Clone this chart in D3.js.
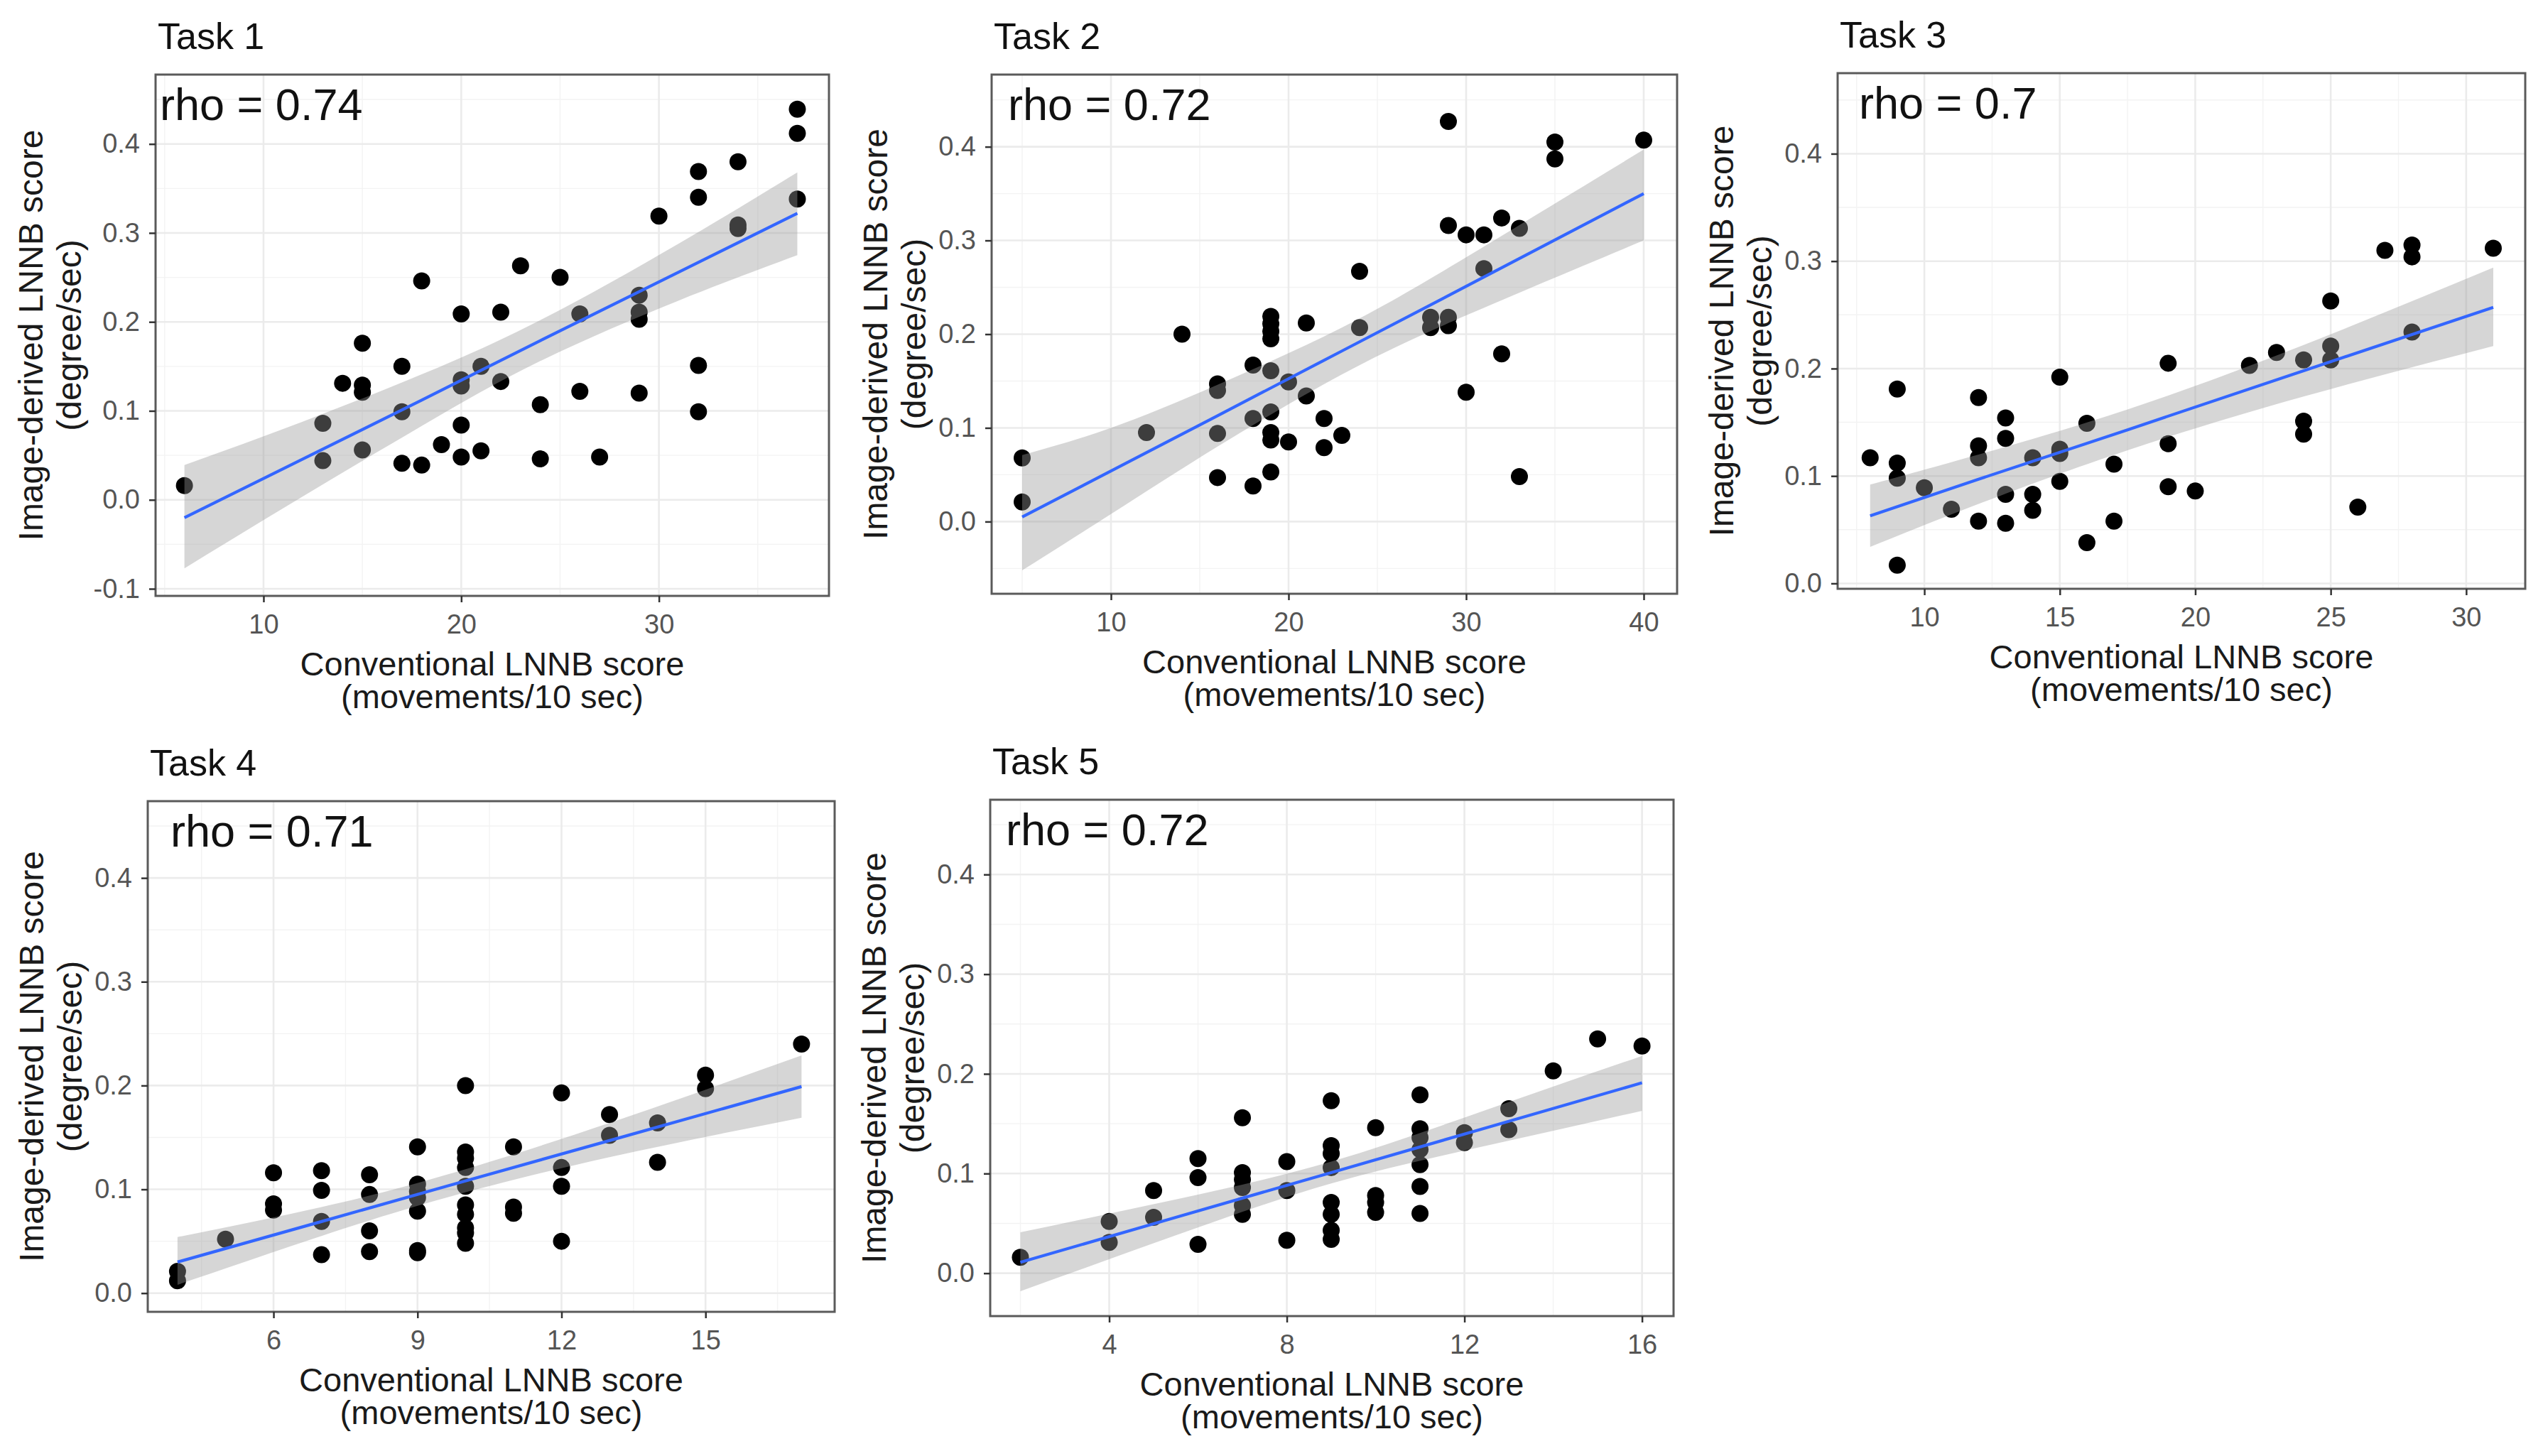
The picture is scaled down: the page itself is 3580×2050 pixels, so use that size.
<!DOCTYPE html>
<html>
<head>
<meta charset="utf-8">
<title>Image-derived vs conventional LNNB score</title>
<script src="https://cdn.jsdelivr.net/npm/d3@7"></script>
<style>
  body { margin: 0; background: #ffffff; }
  text { font-family: "Liberation Sans", Arial, sans-serif; }
  .grid-major { stroke: #EBEBEB; stroke-width: 2.6px; }
  .grid-minor { stroke: #F3F3F3; stroke-width: 1.4px; }
  .axis .tick text { fill: #555555; font-size: 38px; }
  .axis .tick line { stroke: #333333; stroke-width: 2.5px; }
  .axis .domain { display: none; }
</style>
</head>
<body>
<svg id="chart" width="3580" height="2050"></svg>
<script>
// ---- values ----
var taskTitles = ["Task 1", "Task 2", "Task 3", "Task 4", "Task 5"];
var rhoLabels = ["rho = 0.74", "rho = 0.72", "rho = 0.7", "rho = 0.71", "rho = 0.72"];
var xTitle = ["Conventional LNNB score", "(movements/10 sec)"];
var yTitle = ["Image-derived LNNB score", "(degree/sec)"];

var task1X = [6,13,13,14,15,15,15,15,17,17,17,18,18,19,20,20,20,20,20,21,21,22,22,23,24,24,25,26,26,27,29,29,29,29,30,32,32,32,32,34,34,34,37,37,37];
var task1Y = [0.016,0.086,0.044,0.131,0.176,0.129,0.121,0.056,0.150,0.099,0.041,0.246,0.039,0.062,0.209,0.135,0.128,0.084,0.048,0.055,0.150,0.211,0.133,0.263,0.107,0.046,0.250,0.209,0.122,0.048,0.230,0.211,0.203,0.120,0.319,0.369,0.340,0.151,0.099,0.380,0.309,0.305,0.439,0.412,0.338];

var task2X = [5,5,12,14,16,16,16,16,18,18,18,19,19,19,19,19,19,19,19,19,20,20,21,21,22,22,23,24,24,28,28,29,29,29,29,30,30,31,31,32,32,33,33,35,35,40];
var task2Y = [0.068,0.021,0.095,0.200,0.147,0.140,0.094,0.047,0.167,0.110,0.038,0.219,0.211,0.203,0.195,0.161,0.117,0.095,0.087,0.053,0.149,0.085,0.212,0.134,0.110,0.079,0.092,0.267,0.207,0.218,0.207,0.427,0.316,0.218,0.209,0.306,0.138,0.306,0.270,0.324,0.179,0.313,0.048,0.405,0.387,0.407];

var task3X = [8,9,9,9,9,10,11,12,12,12,12,13,13,13,13,14,14,14,15,15,15,15,16,16,17,17,19,19,19,20,22,23,24,24,24,25,25,25,26,27,28,28,28,31];
var task3Y = [0.117,0.181,0.112,0.098,0.017,0.089,0.069,0.173,0.128,0.117,0.058,0.154,0.135,0.083,0.056,0.117,0.083,0.068,0.192,0.125,0.121,0.095,0.149,0.038,0.111,0.058,0.205,0.130,0.090,0.086,0.203,0.215,0.208,0.151,0.139,0.221,0.208,0.263,0.071,0.310,0.315,0.304,0.234,0.312];

var task4X = [4,4,5,6,6,6,7,7,7,7,8,8,8,8,9,9,9,9,9,9,9,10,10,10,10,10,10,10,10,10,10,11,11,11,12,12,12,12,13,13,14,14,15,15,17];
var task4Y = [0.021,0.012,0.052,0.116,0.086,0.080,0.118,0.099,0.069,0.037,0.114,0.095,0.060,0.040,0.141,0.105,0.098,0.092,0.079,0.041,0.039,0.200,0.136,0.130,0.121,0.103,0.085,0.076,0.063,0.058,0.048,0.141,0.083,0.077,0.193,0.121,0.103,0.050,0.172,0.152,0.164,0.126,0.210,0.197,0.240];

var task5X = [2,4,4,5,5,6,6,6,7,7,7,7,7,7,8,8,8,9,9,9,9,9,9,9,9,10,10,10,10,11,11,11,11,11,11,11,12,12,13,13,14,15,16];
var task5Y = [0.016,0.052,0.031,0.083,0.056,0.115,0.096,0.029,0.156,0.101,0.094,0.086,0.068,0.059,0.112,0.083,0.033,0.173,0.128,0.120,0.106,0.071,0.059,0.043,0.034,0.146,0.078,0.071,0.061,0.179,0.145,0.136,0.124,0.109,0.087,0.060,0.141,0.131,0.165,0.144,0.203,0.235,0.228];

// fitted line and its grey confidence band, read at a few x positions
var fit1X  = [6, 12, 18, 24, 31, 37];
var fit1Y  = [-0.020, 0.046, 0.112, 0.179, 0.256, 0.322];
var fit1Lo = [-0.077, 0.004, 0.083, 0.156, 0.224, 0.275];
var fit1Hi = [0.039, 0.088, 0.141, 0.202, 0.288, 0.368];

var fit2X  = [5, 10, 16, 23, 30, 40];
var fit2Y  = [0.005, 0.054, 0.113, 0.182, 0.251, 0.350];
var fit2Lo = [-0.052, 0.008, 0.080, 0.157, 0.220, 0.300];
var fit2Hi = [0.071, 0.100, 0.146, 0.207, 0.282, 0.397];

var fit3X  = [8, 12, 17.5, 24, 31];
var fit3Y  = [0.063, 0.097, 0.143, 0.198, 0.257];
var fit3Lo = [0.034, 0.074, 0.124, 0.174, 0.221];
var fit3Hi = [0.092, 0.120, 0.162, 0.222, 0.294];

var fit4X  = [4, 7, 9.6, 13, 17];
var fit4Y  = [0.030, 0.069, 0.103, 0.147, 0.199];
var fit4Lo = [0.008, 0.055, 0.092, 0.131, 0.169];
var fit4Hi = [0.054, 0.083, 0.114, 0.164, 0.229];

var fit5X  = [2, 5.5, 9, 12.5, 16];
var fit5Y  = [0.011, 0.056, 0.101, 0.146, 0.191];
var fit5Lo = [-0.018, 0.038, 0.090, 0.128, 0.163];
var fit5Hi = [0.041, 0.074, 0.112, 0.164, 0.218];

var xTicks1 = [10, 20, 30];
var xTicks2 = [10, 20, 30, 40];
var xTicks3 = [10, 15, 20, 25, 30];
var xTicks4 = [6, 9, 12, 15];
var xTicks5 = [4, 8, 12, 16];
var yTicks1 = [-0.1, 0, 0.1, 0.2, 0.3, 0.4];
var yTicks  = [0, 0.1, 0.2, 0.3, 0.4];

// ---- panel placement (pixels) and axis ranges ----
var layout = [
  {left: 219,  top: 105,  right: 1167, bottom: 839,  xd: [4.54, 38.6],  yd: [-0.108, 0.478], rhoDx: 6},
  {left: 1396, top: 105,  right: 2361, bottom: 836,  xd: [3.28, 41.88], yd: [-0.077, 0.477], rhoDx: 23},
  {left: 2587, top: 103,  right: 3555, bottom: 829,  xd: [6.80, 32.18], yd: [-0.005, 0.475], rhoDx: 30},
  {left: 208,  top: 1128, right: 1175, bottom: 1847, xd: [3.38, 17.69], yd: [-0.018, 0.474], rhoDx: 32},
  {left: 1394, top: 1126, right: 2356, bottom: 1853, xd: [1.32, 16.71], yd: [-0.043, 0.475], rhoDx: 22}
];

var panels = [
  {x: task1X, y: task1Y, fx: fit1X, fy: fit1Y, lo: fit1Lo, hi: fit1Hi, xt: xTicks1, yt: yTicks1},
  {x: task2X, y: task2Y, fx: fit2X, fy: fit2Y, lo: fit2Lo, hi: fit2Hi, xt: xTicks2, yt: yTicks},
  {x: task3X, y: task3Y, fx: fit3X, fy: fit3Y, lo: fit3Lo, hi: fit3Hi, xt: xTicks3, yt: yTicks},
  {x: task4X, y: task4Y, fx: fit4X, fy: fit4Y, lo: fit4Lo, hi: fit4Hi, xt: xTicks4, yt: yTicks},
  {x: task5X, y: task5Y, fx: fit5X, fy: fit5Y, lo: fit5Lo, hi: fit5Hi, xt: xTicks5, yt: yTicks}
];

var svg = d3.select("#chart");
svg.append("rect").attr("width", 3580).attr("height", 2050).attr("fill", "#ffffff");

// midpoints between major ticks, plus half a step past each end
function minorTicks(major, domain) {
  var step = major[1] - major[0], out = [];
  for (var v = major[0] - step / 2; v <= domain[1]; v += step) {
    if (v >= domain[0]) out.push(+v.toFixed(4));
  }
  return out;
}

panels.forEach(function(p, i) {
  var L = layout[i];
  var w = L.right - L.left, h = L.bottom - L.top;
  var x = d3.scaleLinear().domain(L.xd).range([0, w]);
  var y = d3.scaleLinear().domain(L.yd).range([h, 0]);

  var g = svg.append("g").attr("transform", "translate(" + L.left + "," + L.top + ")");

  g.append("clipPath").attr("id", "clip" + i)
    .append("rect").attr("width", w).attr("height", h);

  g.append("rect").attr("width", w).attr("height", h).attr("fill", "#ffffff");

  // grid
  var grid = g.append("g");
  grid.selectAll(".vmin").data(minorTicks(p.xt, L.xd)).enter().append("line")
    .attr("class", "grid-minor").attr("x1", x).attr("x2", x).attr("y1", 0).attr("y2", h);
  grid.selectAll(".hmin").data(minorTicks(p.yt, L.yd)).enter().append("line")
    .attr("class", "grid-minor").attr("y1", y).attr("y2", y).attr("x1", 0).attr("x2", w);
  grid.selectAll(".vmaj").data(p.xt).enter().append("line")
    .attr("class", "grid-major").attr("x1", x).attr("x2", x).attr("y1", 0).attr("y2", h);
  grid.selectAll(".hmaj").data(p.yt).enter().append("line")
    .attr("class", "grid-major").attr("y1", y).attr("y2", y).attr("x1", 0).attr("x2", w);

  // points
  var pts = p.x.map(function(v, k) { return {x: v, y: p.y[k]}; });
  g.append("g").selectAll("circle").data(pts).enter().append("circle")
    .attr("cx", function(d) { return x(d.x); })
    .attr("cy", function(d) { return y(d.y); })
    .attr("r", 12)
    .attr("fill", "#000000");

  // confidence band over the points, then the fitted line
  var band = p.fx.map(function(v, k) { return {x: v, lo: p.lo[k], hi: p.hi[k], fit: p.fy[k]}; });
  g.append("path").datum(band)
    .attr("clip-path", "url(#clip" + i + ")")
    .attr("fill", "#999999").attr("fill-opacity", 0.4)
    .attr("d", d3.area().curve(d3.curveNatural)
      .x(function(d) { return x(d.x); })
      .y0(function(d) { return y(d.lo); })
      .y1(function(d) { return y(d.hi); }));
  g.append("path").datum(band)
    .attr("fill", "none").attr("stroke", "#3366FF").attr("stroke-width", 4.2)
    .attr("d", d3.line()
      .x(function(d) { return x(d.x); })
      .y(function(d) { return y(d.fit); }));

  // border
  g.append("rect").attr("width", w).attr("height", h)
    .attr("fill", "none").attr("stroke", "#5a5a5a").attr("stroke-width", 3);

  // axes
  g.append("g").attr("class", "axis").attr("transform", "translate(0," + h + ")")
    .call(d3.axisBottom(x).tickValues(p.xt).tickSize(9).tickPadding(17).tickFormat(d3.format("d")));
  var yAxis = g.append("g").attr("class", "axis")
    .call(d3.axisLeft(y).tickValues(p.yt).tickSize(9).tickPadding(13)
      .tickFormat(function(d) { return d.toFixed(1); }));

  // x title
  g.append("text").attr("x", w / 2).attr("y", h + 112)
    .attr("text-anchor", "middle").attr("font-size", 47).attr("fill", "#1a1a1a")
    .text(xTitle[0]);
  g.append("text").attr("x", w / 2).attr("y", h + 158)
    .attr("text-anchor", "middle").attr("font-size", 47).attr("fill", "#1a1a1a")
    .text(xTitle[1]);

  // y title, placed left of the tick labels
  var labelLeft = yAxis.node().getBBox().x;
  var c2 = labelLeft - 34, c1 = c2 - 54;
  [c1, c2].forEach(function(cx, k) {
    g.append("text")
      .attr("transform", "translate(" + (cx + 16) + "," + (h / 2) + ") rotate(-90)")
      .attr("text-anchor", "middle").attr("font-size", 48).attr("fill", "#1a1a1a")
      .text(yTitle[k]);
  });

  // panel title and rho annotation
  g.append("text").attr("x", 3).attr("y", -36)
    .attr("font-size", 52).attr("fill", "#111111").text(taskTitles[i]);
  g.append("text").attr("x", L.rhoDx).attr("y", 64)
    .attr("font-size", 63).attr("fill", "#111111").text(rhoLabels[i]);
});
</script>
</body>
</html>
